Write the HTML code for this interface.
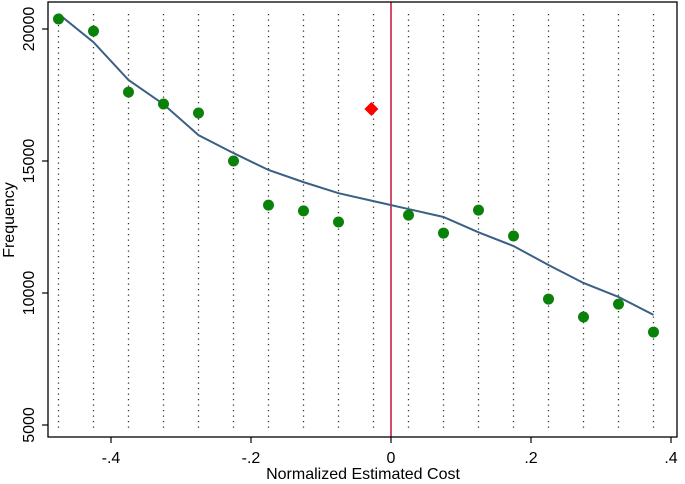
<!DOCTYPE html>
<html><head><meta charset="utf-8"><style>
body{margin:0;background:#fff;}
svg{display:block;font-family:"Liberation Sans",sans-serif;}
</style></head><body>
<svg id="chart" width="685" height="484">
<rect x="0" y="0" width="685" height="484" fill="#fff"/>
<g id="grid"></g>
<line x1="391" y1="2" x2="391" y2="437" stroke="#c0143c" stroke-width="1.5"/>
<polyline id="fit" fill="none" stroke="#3b5f85" stroke-width="2"/>
<g id="pts"></g>
<rect x="48" y="2" width="629" height="435" fill="none" stroke="#000" stroke-width="1.3"/>
<g id="axes"></g>
<text x="363" y="479" text-anchor="middle" font-size="16">Normalized Estimated Cost</text>
<text transform="translate(14,220) rotate(-90)" text-anchor="middle" font-size="16">Frequency</text>
</svg>
<script>
const binCenters=[-0.475,-0.425,-0.375,-0.325,-0.275,-0.225,-0.175,-0.125,-0.075,-0.025,0.025,0.075,0.125,0.175,0.225,0.275,0.325,0.375];
const pointX=[-0.475,-0.425,-0.375,-0.325,-0.275,-0.225,-0.175,-0.125,-0.075,0.025,0.075,0.125,0.175,0.225,0.275,0.325,0.375];
const pointY=[20380,19920,17610,17160,16820,15000,13330,13110,12690,12950,12270,13140,12160,9770,9090,9580,8520];
const fitX=[-0.475,-0.425,-0.375,-0.325,-0.275,-0.225,-0.175,-0.125,-0.075,0.025,0.075,0.125,0.175,0.225,0.275,0.325,0.375];
const fitY=[20570,19500,18070,17150,15980,15300,14660,14200,13780,13180,12880,12300,11780,11060,10380,9850,9170];
const outlierX=[-0.028];
const outlierY=[16970];
const xTicks=[-0.4,-0.2,0,0.2,0.4];
const xTickLabels=["-.4","-.2","0",".2",".4"];
const yTicks=[5000,10000,15000,20000];
const yTickLabels=["5000","10000","15000","20000"];
const NS="http://www.w3.org/2000/svg";
const sx=v=>391+v*700;
const sy=v=>425-(v-5000)*(132/5000);
function mk(t,a,p){const e=document.createElementNS(NS,t);for(const k in a)e.setAttribute(k,a[k]);p.appendChild(e);return e;}
const grid=document.getElementById('grid');
binCenters.forEach(c=>{
 const l=mk('line',{x1:sx(c),x2:sx(c),y1:14,y2:430,stroke:'#333','stroke-width':1.3,'stroke-dasharray':'1.3 4.2'},grid);
 
 
});
document.getElementById('fit').setAttribute('points',fitX.map((x,i)=>sx(x)+','+sy(fitY[i])).join(' '));
const pts=document.getElementById('pts');
pointX.forEach((x,i)=>{
 const c=mk('circle',{cx:sx(x),cy:sy(pointY[i]),r:5.5,fill:'#0a820a'},pts);
 
 
});
outlierX.forEach((x,i)=>{
 const X=sx(x),Y=sy(outlierY[i]);
 const d=mk('polygon',{points:`${X},${Y-7} ${X+7},${Y} ${X},${Y+7} ${X-7},${Y}`,fill:'#f00'},pts);
 
 
});
const ax=document.getElementById('axes');
xTicks.forEach((v,i)=>{
 const l=mk('line',{x1:sx(v),x2:sx(v),y1:437,y2:443,stroke:'#000','stroke-width':1.2},ax);
 
 
 const t=mk('text',{x:sx(v),y:463,'text-anchor':'middle','font-size':16},ax);
 t.textContent=xTickLabels[i];
 
 
});
yTicks.forEach((v,i)=>{
 const l=mk('line',{x1:42,x2:48,y1:sy(v),y2:sy(v),stroke:'#000','stroke-width':1.2},ax);
 
 
 const t=mk('text',{transform:`translate(34,${sy(v)}) rotate(-90)`,'text-anchor':'middle','font-size':16},ax);
 t.textContent=yTickLabels[i];
 
 
});
</script>
</body></html>
